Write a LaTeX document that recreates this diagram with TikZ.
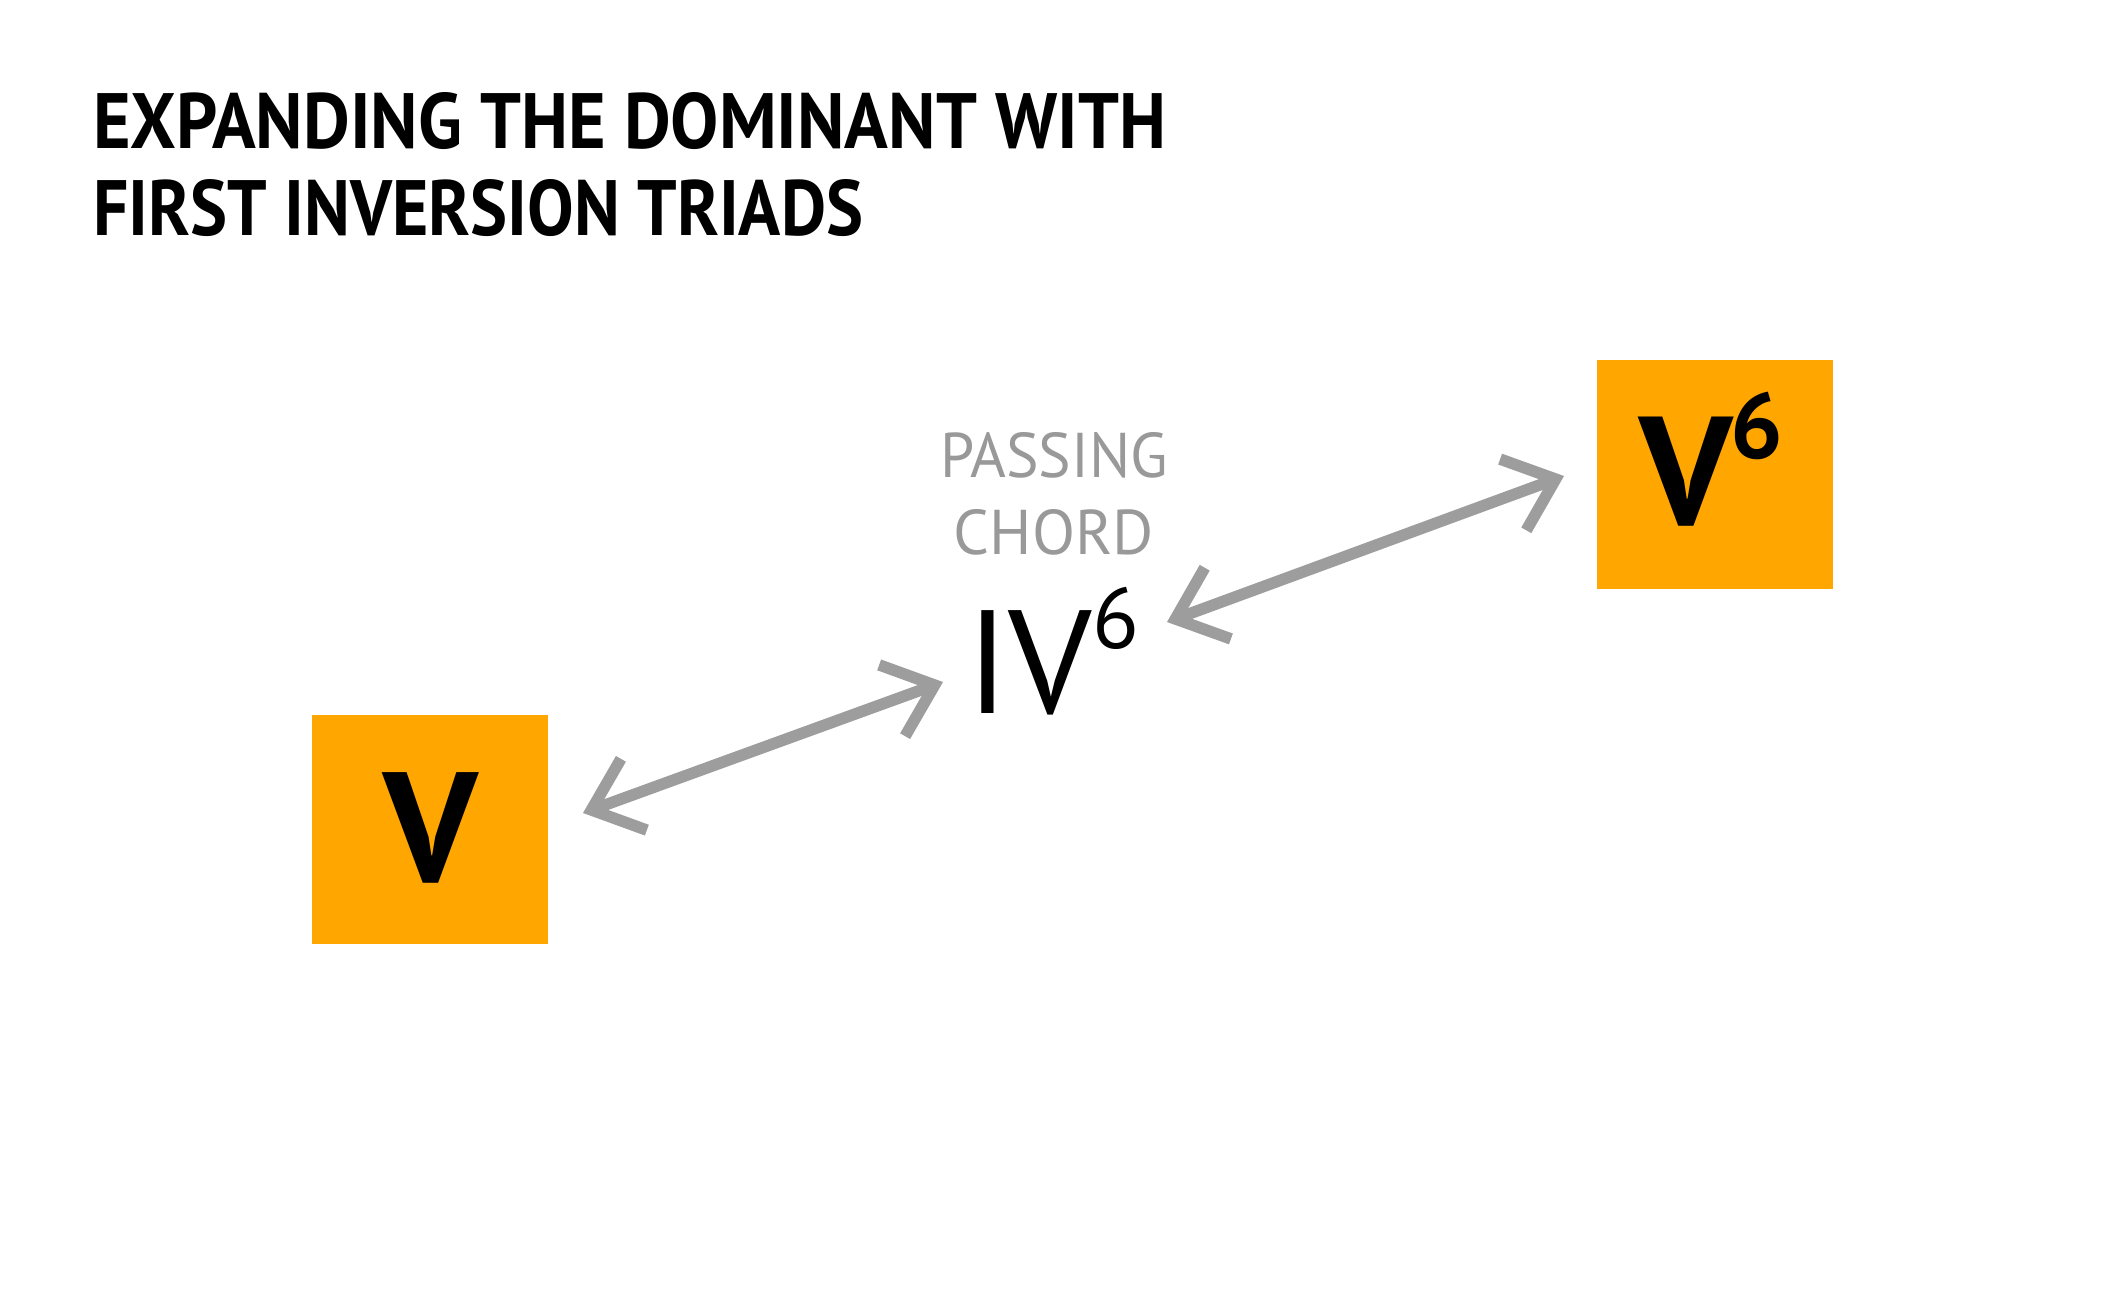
\documentclass[tikz,border=0pt]{standalone}
\usepackage{fontspec}
\usepackage{graphicx}
\setmainfont{PT Sans}
\usetikzlibrary{arrows.meta}
\definecolor{boxorange}{HTML}{FFA600}
\definecolor{arrowgray}{HTML}{9D9D9D}
\definecolor{labelgray}{HTML}{999999}
\tikzset{
  chordbox/.style={fill=boxorange, draw=none, inner sep=0pt, minimum width=236pt, minimum height=229pt},
  txt/.style={inner sep=0pt, outer sep=0pt},
  barb/.tip={Straight Barb[angle=80:59pt, sharp, line width=11.5pt]},
  twoway/.style={draw=arrowgray, line width=11.5pt, barb-barb},
}
\begin{document}
\begin{tikzpicture}[x=1pt,y=-1pt]
\useasboundingbox (0,0) rectangle (2110,1304);
% title
\node[txt, anchor=base west] (title1) at (93,148) {\resizebox{1073pt}{56pt}{\bfseries EXPANDING THE DOMINANT WITH}};
\node[txt, anchor=base west] (title2) at (93,235) {\resizebox{770pt}{56pt}{\bfseries FIRST INVERSION TRIADS}};
% boxes
\node[chordbox] (vbox) at (430,829.5) {};
\node[chordbox] (v6box) at (1715,474) {};
\node[txt, anchor=base] (vlab) at (430.5,882) {\fontsize{157}{157}\selectfont\bfseries V};
\node[txt, anchor=base east] (v6lab) at (1733,525) {\fontsize{155}{155}\selectfont\bfseries V};
\node[txt, anchor=base west] (v6sup) at (1730,458) {\fontsize{93}{93}\selectfont\bfseries 6};
% passing chord
\node[txt, anchor=base, text=labelgray] (passing) at (1054,477) {\resizebox{228pt}{45pt}{PASSING}};
\node[txt, anchor=base, text=labelgray] (chord) at (1054,554) {\resizebox{200pt}{45pt}{CHORD}};
\node[txt, anchor=base west] (iv) at (966,713) {\fontsize{147}{147}\selectfont IV};
\node[txt, anchor=base west] (ivsup) at (1092,648) {\fontsize{86}{86}\selectfont 6};
% arrow tips
\coordinate (a1l) at (583,813);
\coordinate (a1r) at (943,682);
\coordinate (a2l) at (1167,622);
\coordinate (a2r) at (1564,476);
\draw[twoway] (a1l) -- (a1r);
\draw[twoway] (a2l) -- (a2r);
\end{tikzpicture}
\end{document}
